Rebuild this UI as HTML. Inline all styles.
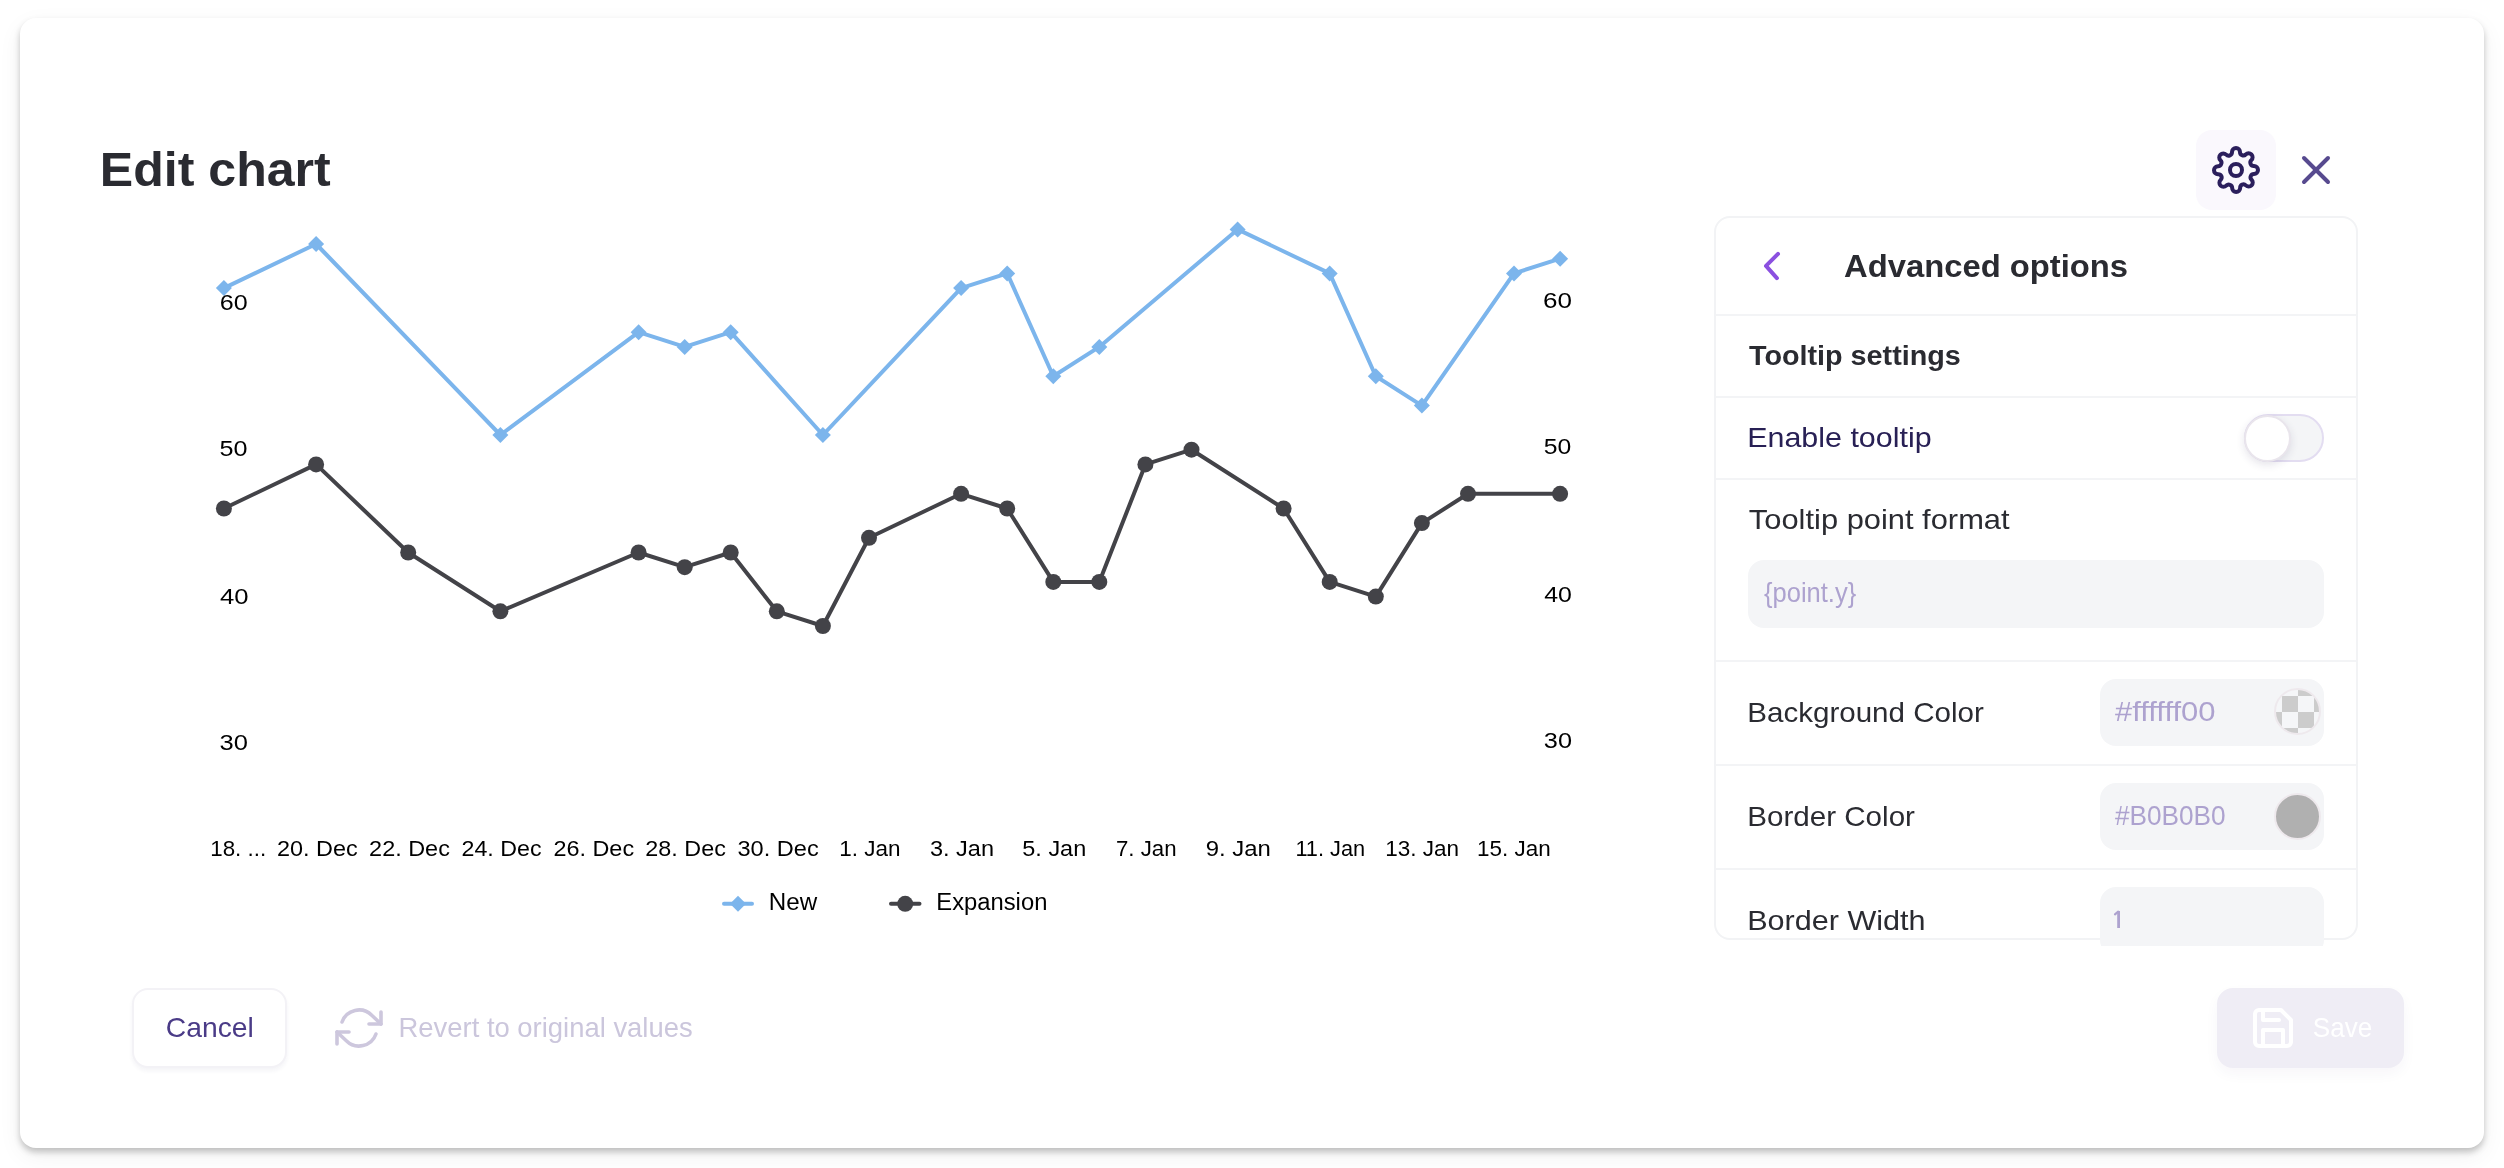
<!DOCTYPE html>
<html><head><meta charset="utf-8"><title>Edit chart</title>
<style>
html,body{margin:0;padding:0;background:#fff;width:2504px;height:1168px;overflow:hidden;font-family:"Liberation Sans",sans-serif;}
.abs{position:absolute;box-sizing:border-box;}
#card{left:20px;top:18px;width:2464px;height:1130px;border-radius:16px;background:#fff;box-shadow:0 4px 6px rgba(0,0,0,0.22),0 8px 24px rgba(0,0,0,0.06);}
#gearbtn{left:2196px;top:130px;width:80px;height:80px;border-radius:16px;background:#faf8fd;}
#panel{left:1714px;top:216px;width:644px;height:724px;border:2px solid #f2f3f5;border-radius:16px;background:#fff;}
.sep{left:1716px;width:640px;height:2px;background:#f3f4f6;}
.inp{background:#f4f5f7;border-radius:16px;}
#toggle{left:2244px;top:414px;width:80px;height:48px;border-radius:24px;background:#f4f5f7;border:2px solid #e3ddf1;}
#knob{left:2243.6px;top:414.6px;width:47px;height:47px;border-radius:50%;background:#fff;border:2px solid #e9e5ec;box-shadow:0 3px 8px rgba(40,30,80,0.12);}
.sw{width:47px;height:47px;border-radius:50%;border:2px solid #eee9ed;overflow:hidden;}
#cancel{left:132px;top:988px;width:155px;height:80px;border-radius:16px;border:2px solid #f3f2f6;background:#fff;box-shadow:0 3px 4px rgba(40,30,90,0.05);}
#save{left:2217px;top:988px;width:187px;height:80px;border-radius:16px;background:#efedf5;box-shadow:0 6px 14px rgba(40,30,90,0.04);}
svg text{font-family:"Liberation Sans",sans-serif;}
svg.abs{will-change:transform;}
.ax{font-size:22px;fill:#000;}
.lg{font-size:23.5px;fill:#000;}
.t48{font-size:48px;font-weight:700;fill:#2a2b31;}
.t32{font-size:32px;font-weight:700;fill:#2a2b31;}
.b28{font-size:28px;font-weight:700;fill:#2a2b31;}
.r28{font-size:28px;fill:#2a2b31;}
.ph{font-size:28px;fill:#ada2cf;}
</style></head>
<body>
<div id="root" style="position:relative;width:2504px;height:1168px;transform-origin:0 0;">
<div id="card" class="abs"></div>
<div id="gearbtn" class="abs"></div>
<div id="panel" class="abs"></div>
<div class="abs sep" style="top:314px"></div>
<div class="abs sep" style="top:396px"></div>
<div class="abs sep" style="top:478px"></div>
<div class="abs sep" style="top:660px"></div>
<div class="abs sep" style="top:764px"></div>
<div class="abs sep" style="top:868px"></div>
<div id="toggle" class="abs"></div>
<div id="knob" class="abs"></div>
<div class="abs inp" style="left:1748px;top:560px;width:576px;height:68px;"></div>
<div class="abs inp" style="left:2100px;top:678.5px;width:224px;height:67.5px;"></div>
<div class="abs inp" style="left:2100px;top:782.8px;width:224px;height:67px;"></div>
<div class="abs" style="left:2100px;top:887px;width:224px;height:59px;overflow:hidden;"><div class="inp" style="width:224px;height:68.5px;"></div></div>
<div class="abs sw" style="left:2274px;top:688px;background-color:#f5f6f8;background-image:conic-gradient(#cccccc 0 25%,#f5f6f8 0 50%,#cccccc 0 75%,#f5f6f8 0);background-size:32px 32px;background-position:6px -10px;"></div>
<div class="abs sw" style="left:2274px;top:792.5px;background:#b0b0b0;"></div>
<div id="cancel" class="abs"></div>
<div id="save" class="abs"></div>
<svg class="abs" style="left:0;top:0" width="2504" height="1168" viewBox="0 0 2504 1168">
<polyline points="223.9,508.5 316.1,464.4 408.2,552.5 500.4,611.3 638.6,552.5 684.7,567.2 730.7,552.5 776.8,611.3 822.9,626.0 869.0,537.8 961.1,493.8 1007.2,508.5 1053.3,581.9 1099.3,581.9 1145.4,464.4 1191.5,449.7 1283.6,508.5 1329.7,581.9 1375.8,596.6 1421.9,523.1 1468.0,493.8 1560.1,493.8" fill="none" stroke="#434348" stroke-width="4" stroke-linejoin="round" stroke-linecap="round"/>
<circle cx="223.9" cy="508.5" r="8" fill="#434348"/>
<circle cx="316.1" cy="464.4" r="8" fill="#434348"/>
<circle cx="408.2" cy="552.5" r="8" fill="#434348"/>
<circle cx="500.4" cy="611.3" r="8" fill="#434348"/>
<circle cx="638.6" cy="552.5" r="8" fill="#434348"/>
<circle cx="684.7" cy="567.2" r="8" fill="#434348"/>
<circle cx="730.7" cy="552.5" r="8" fill="#434348"/>
<circle cx="776.8" cy="611.3" r="8" fill="#434348"/>
<circle cx="822.9" cy="626.0" r="8" fill="#434348"/>
<circle cx="869.0" cy="537.8" r="8" fill="#434348"/>
<circle cx="961.1" cy="493.8" r="8" fill="#434348"/>
<circle cx="1007.2" cy="508.5" r="8" fill="#434348"/>
<circle cx="1053.3" cy="581.9" r="8" fill="#434348"/>
<circle cx="1099.3" cy="581.9" r="8" fill="#434348"/>
<circle cx="1145.4" cy="464.4" r="8" fill="#434348"/>
<circle cx="1191.5" cy="449.7" r="8" fill="#434348"/>
<circle cx="1283.6" cy="508.5" r="8" fill="#434348"/>
<circle cx="1329.7" cy="581.9" r="8" fill="#434348"/>
<circle cx="1375.8" cy="596.6" r="8" fill="#434348"/>
<circle cx="1421.9" cy="523.1" r="8" fill="#434348"/>
<circle cx="1468.0" cy="493.8" r="8" fill="#434348"/>
<circle cx="1560.1" cy="493.8" r="8" fill="#434348"/>
<polyline points="223.9,288.1 316.1,244.0 500.4,435.0 638.6,332.2 684.7,346.9 730.7,332.2 822.9,435.0 961.1,288.1 1007.2,273.4 1053.3,376.2 1099.3,346.9 1237.6,229.4 1329.7,273.4 1375.8,376.2 1421.9,405.6 1514.0,273.4 1560.1,258.7" fill="none" stroke="#7cb5ec" stroke-width="4" stroke-linejoin="round" stroke-linecap="round"/>
<path d="M223.9 280.1L231.9 288.1L223.9 296.1L215.9 288.1Z" fill="#7cb5ec"/>
<path d="M316.1 236.0L324.1 244.0L316.1 252.0L308.1 244.0Z" fill="#7cb5ec"/>
<path d="M500.4 427.0L508.4 435.0L500.4 443.0L492.4 435.0Z" fill="#7cb5ec"/>
<path d="M638.6 324.2L646.6 332.2L638.6 340.2L630.6 332.2Z" fill="#7cb5ec"/>
<path d="M684.7 338.9L692.7 346.9L684.7 354.9L676.7 346.9Z" fill="#7cb5ec"/>
<path d="M730.7 324.2L738.7 332.2L730.7 340.2L722.7 332.2Z" fill="#7cb5ec"/>
<path d="M822.9 427.0L830.9 435.0L822.9 443.0L814.9 435.0Z" fill="#7cb5ec"/>
<path d="M961.1 280.1L969.1 288.1L961.1 296.1L953.1 288.1Z" fill="#7cb5ec"/>
<path d="M1007.2 265.4L1015.2 273.4L1007.2 281.4L999.2 273.4Z" fill="#7cb5ec"/>
<path d="M1053.3 368.2L1061.3 376.2L1053.3 384.2L1045.3 376.2Z" fill="#7cb5ec"/>
<path d="M1099.3 338.9L1107.3 346.9L1099.3 354.9L1091.3 346.9Z" fill="#7cb5ec"/>
<path d="M1237.6 221.4L1245.6 229.4L1237.6 237.4L1229.6 229.4Z" fill="#7cb5ec"/>
<path d="M1329.7 265.4L1337.7 273.4L1329.7 281.4L1321.7 273.4Z" fill="#7cb5ec"/>
<path d="M1375.8 368.2L1383.8 376.2L1375.8 384.2L1367.8 376.2Z" fill="#7cb5ec"/>
<path d="M1421.9 397.6L1429.9 405.6L1421.9 413.6L1413.9 405.6Z" fill="#7cb5ec"/>
<path d="M1514.0 265.4L1522.0 273.4L1514.0 281.4L1506.0 273.4Z" fill="#7cb5ec"/>
<path d="M1560.1 250.7L1568.1 258.7L1560.1 266.7L1552.1 258.7Z" fill="#7cb5ec"/>
<line x1="724" y1="903.8" x2="752" y2="903.8" stroke="#7cb5ec" stroke-width="4" stroke-linecap="round"/>
<path d="M738 895.8L746 903.8L738 911.8L730 903.8Z" fill="#7cb5ec"/>
<line x1="891" y1="903.8" x2="919.5" y2="903.8" stroke="#434348" stroke-width="4" stroke-linecap="round"/>
<circle cx="905.2" cy="903.8" r="8" fill="#434348"/>
<text id="t_title" class="t48" x="99.86" y="186.0" textLength="230.93" lengthAdjust="spacingAndGlyphs">Edit chart</text>
<text id="t_adv" class="t32" x="1844.07" y="276.8" textLength="284.00" lengthAdjust="spacingAndGlyphs">Advanced options</text>
<text id="t_tts" class="b28" x="1749.00" y="365.0" textLength="211.81" lengthAdjust="spacingAndGlyphs">Tooltip settings</text>
<text id="t_en" class="r28" style="fill:#282055" x="1747.19" y="447.3" textLength="184.44" lengthAdjust="spacingAndGlyphs">Enable tooltip</text>
<text id="t_tpf" class="r28" x="1748.89" y="529.4" textLength="260.71" lengthAdjust="spacingAndGlyphs">Tooltip point format</text>
<text id="t_py" class="ph" x="1764.00" y="601.6" textLength="92.19" lengthAdjust="spacingAndGlyphs">{point.y}</text>
<text id="t_bgc" class="r28" x="1747.28" y="721.9" textLength="236.51" lengthAdjust="spacingAndGlyphs">Background Color</text>
<text id="t_bgv" class="ph" x="2115.00" y="721.3" textLength="100.55" lengthAdjust="spacingAndGlyphs">#ffffff00</text>
<text id="t_bc" class="r28" x="1747.25" y="826.0" textLength="167.70" lengthAdjust="spacingAndGlyphs">Border Color</text>
<text id="t_bcv" class="ph" x="2115.00" y="825.0" textLength="110.66" lengthAdjust="spacingAndGlyphs">#B0B0B0</text>
<text id="t_bw" class="r28" x="1747.17" y="930.0" textLength="178.40" lengthAdjust="spacingAndGlyphs">Border Width</text>
<text id="t_cancel" class="r28" style="fill:#4a3b87" x="165.79" y="1037.0" textLength="88.01" lengthAdjust="spacingAndGlyphs">Cancel</text>
<text id="t_revert" class="r28" style="fill:#cbc6dc" x="398.52" y="1036.8" textLength="294.13" lengthAdjust="spacingAndGlyphs">Revert to original values</text>
<text id="t_save" class="r28" style="fill:#fff" x="2312.81" y="1036.8" textLength="59.48" lengthAdjust="spacingAndGlyphs">Save</text>
<text id="ly60" class="ax" x="219.83" y="309.8" textLength="27.90" lengthAdjust="spacingAndGlyphs">60</text>
<text id="ly50" class="ax" x="219.52" y="455.9" textLength="28.00" lengthAdjust="spacingAndGlyphs">50</text>
<text id="ly40" class="ax" x="219.92" y="603.7" textLength="28.56" lengthAdjust="spacingAndGlyphs">40</text>
<text id="ly30" class="ax" x="219.63" y="749.8" textLength="28.37" lengthAdjust="spacingAndGlyphs">30</text>
<text id="ry60" class="ax" x="1542.96" y="307.8" textLength="28.98" lengthAdjust="spacingAndGlyphs">60</text>
<text id="ry50" class="ax" x="1543.76" y="453.9" textLength="27.52" lengthAdjust="spacingAndGlyphs">50</text>
<text id="ry40" class="ax" x="1544.17" y="601.7" textLength="27.72" lengthAdjust="spacingAndGlyphs">40</text>
<text id="ry30" class="ax" x="1543.85" y="747.8" textLength="28.15" lengthAdjust="spacingAndGlyphs">30</text>
<text id="lx0" class="ax" x="210.27" y="855.9" textLength="55.90" lengthAdjust="spacingAndGlyphs">18. ...</text>
<text id="lx1" class="ax" x="276.94" y="855.9" textLength="80.73" lengthAdjust="spacingAndGlyphs">20. Dec</text>
<text id="lx2" class="ax" x="369.12" y="855.9" textLength="80.75" lengthAdjust="spacingAndGlyphs">22. Dec</text>
<text id="lx3" class="ax" x="461.50" y="855.9" textLength="80.01" lengthAdjust="spacingAndGlyphs">24. Dec</text>
<text id="lx4" class="ax" x="553.48" y="855.9" textLength="80.62" lengthAdjust="spacingAndGlyphs">26. Dec</text>
<text id="lx5" class="ax" x="645.38" y="855.9" textLength="80.44" lengthAdjust="spacingAndGlyphs">28. Dec</text>
<text id="lx6" class="ax" x="737.48" y="855.9" textLength="81.26" lengthAdjust="spacingAndGlyphs">30. Dec</text>
<text id="lx7" class="ax" x="839.36" y="855.9" textLength="61.22" lengthAdjust="spacingAndGlyphs">1. Jan</text>
<text id="lx8" class="ax" x="929.93" y="855.9" textLength="64.07" lengthAdjust="spacingAndGlyphs">3. Jan</text>
<text id="lx9" class="ax" x="1022.30" y="855.9" textLength="63.93" lengthAdjust="spacingAndGlyphs">5. Jan</text>
<text id="lx10" class="ax" x="1116.01" y="855.9" textLength="60.57" lengthAdjust="spacingAndGlyphs">7. Jan</text>
<text id="lx11" class="ax" x="1205.71" y="855.9" textLength="65.14" lengthAdjust="spacingAndGlyphs">9. Jan</text>
<text id="lx12" class="ax" x="1295.40" y="855.9" textLength="69.74" lengthAdjust="spacingAndGlyphs">11. Jan</text>
<text id="lx13" class="ax" x="1385.26" y="855.9" textLength="73.88" lengthAdjust="spacingAndGlyphs">13. Jan</text>
<text id="lx14" class="ax" x="1477.04" y="855.9" textLength="73.63" lengthAdjust="spacingAndGlyphs">15. Jan</text>
<text id="lg_new" class="lg" x="768.83" y="910.2" textLength="48.37" lengthAdjust="spacingAndGlyphs">New</text>
<text id="lg_exp" class="lg" x="936.32" y="910.2" textLength="111.05" lengthAdjust="spacingAndGlyphs">Expansion</text>
<path d="M2118.6 911V928" fill="none" stroke="#ada2cf" stroke-width="2.8"/><path d="M2115 914.3L2118.2 911.6" fill="none" stroke="#ada2cf" stroke-width="2.2" stroke-linecap="round"/>
<!-- gear (feather settings) -->
<g transform="translate(2212,146) scale(2)" fill="none" stroke="#2b1f5c" stroke-width="2" stroke-linecap="round" stroke-linejoin="round">
<circle cx="12" cy="12" r="3"/>
<path d="M19.4 15a1.65 1.65 0 0 0 .33 1.82l.06.06a2 2 0 0 1 0 2.83 2 2 0 0 1-2.83 0l-.06-.06a1.65 1.65 0 0 0-1.82-.33 1.65 1.65 0 0 0-1 1.51V21a2 2 0 0 1-2 2 2 2 0 0 1-2-2v-.09A1.65 1.65 0 0 0 9 19.4a1.65 1.65 0 0 0-1.82.33l-.06.06a2 2 0 0 1-2.83 0 2 2 0 0 1 0-2.83l.06-.06a1.65 1.65 0 0 0 .33-1.82 1.65 1.65 0 0 0-1.51-1H3a2 2 0 0 1-2-2 2 2 0 0 1 2-2h.09A1.65 1.65 0 0 0 4.6 9a1.65 1.65 0 0 0-.33-1.82l-.06-.06a2 2 0 0 1 0-2.83 2 2 0 0 1 2.83 0l.06.06a1.65 1.65 0 0 0 1.82.33H9a1.65 1.65 0 0 0 1-1.51V3a2 2 0 0 1 2-2 2 2 0 0 1 2 2v.09a1.65 1.65 0 0 0 1 1.51 1.65 1.65 0 0 0 1.82-.33l.06-.06a2 2 0 0 1 2.83 0 2 2 0 0 1 0 2.83l-.06.06a1.65 1.65 0 0 0-.33 1.82V9a1.65 1.65 0 0 0 1.51 1H21a2 2 0 0 1 2 2 2 2 0 0 1-2 2h-.09a1.65 1.65 0 0 0-1.51 1z"/>
</g>
<!-- close x -->
<g transform="translate(2292,146) scale(2)" fill="none" stroke="#574a8f" stroke-width="2" stroke-linecap="round">
<line x1="18" y1="6" x2="6" y2="18"/><line x1="6" y1="6" x2="18" y2="18"/>
</g>
<!-- back chevron -->
<g transform="translate(1748,241.8) scale(2)" fill="none" stroke="#8b50e0" stroke-width="2" stroke-linecap="round" stroke-linejoin="round">
<polyline points="14.45 18.15 9 12.05 15 6.05"/>
</g>
<!-- refresh -->
<g transform="translate(335,1004) scale(2)" fill="none" stroke="#cdc7dd" stroke-width="1.8" stroke-linecap="round" stroke-linejoin="round">
<polyline points="23 4 23 10 17 10"/><polyline points="1 20 1 14 7 14"/>
<path d="M3.51 9a9 9 0 0 1 14.85-3.36L23 10M1 14l4.64 4.36A9 9 0 0 0 20.49 15"/>
</g>
<!-- save icon -->
<g transform="translate(2249,1004) scale(2)" fill="none" stroke="#fff" stroke-width="2" stroke-linecap="round" stroke-linejoin="round">
<path d="M19 21H5a2 2 0 0 1-2-2V5a2 2 0 0 1 2-2h11l5 5v11a2 2 0 0 1-2 2z"/>
<polyline points="17 21 17 13 7 13 7 21"/><polyline points="7 3 7 8 15 8"/>
</g>
</svg>
</div>
<script>(function(){var w=window.innerWidth;if(w>0&&Math.abs(w-2504)>40){var s=w/2504;var r=document.getElementById("root");r.style.transform="scale("+s+")";document.documentElement.style.width=document.body.style.width=w+"px";document.documentElement.style.height=document.body.style.height=Math.round(1168*s)+"px";}})();</script>
</body></html>
